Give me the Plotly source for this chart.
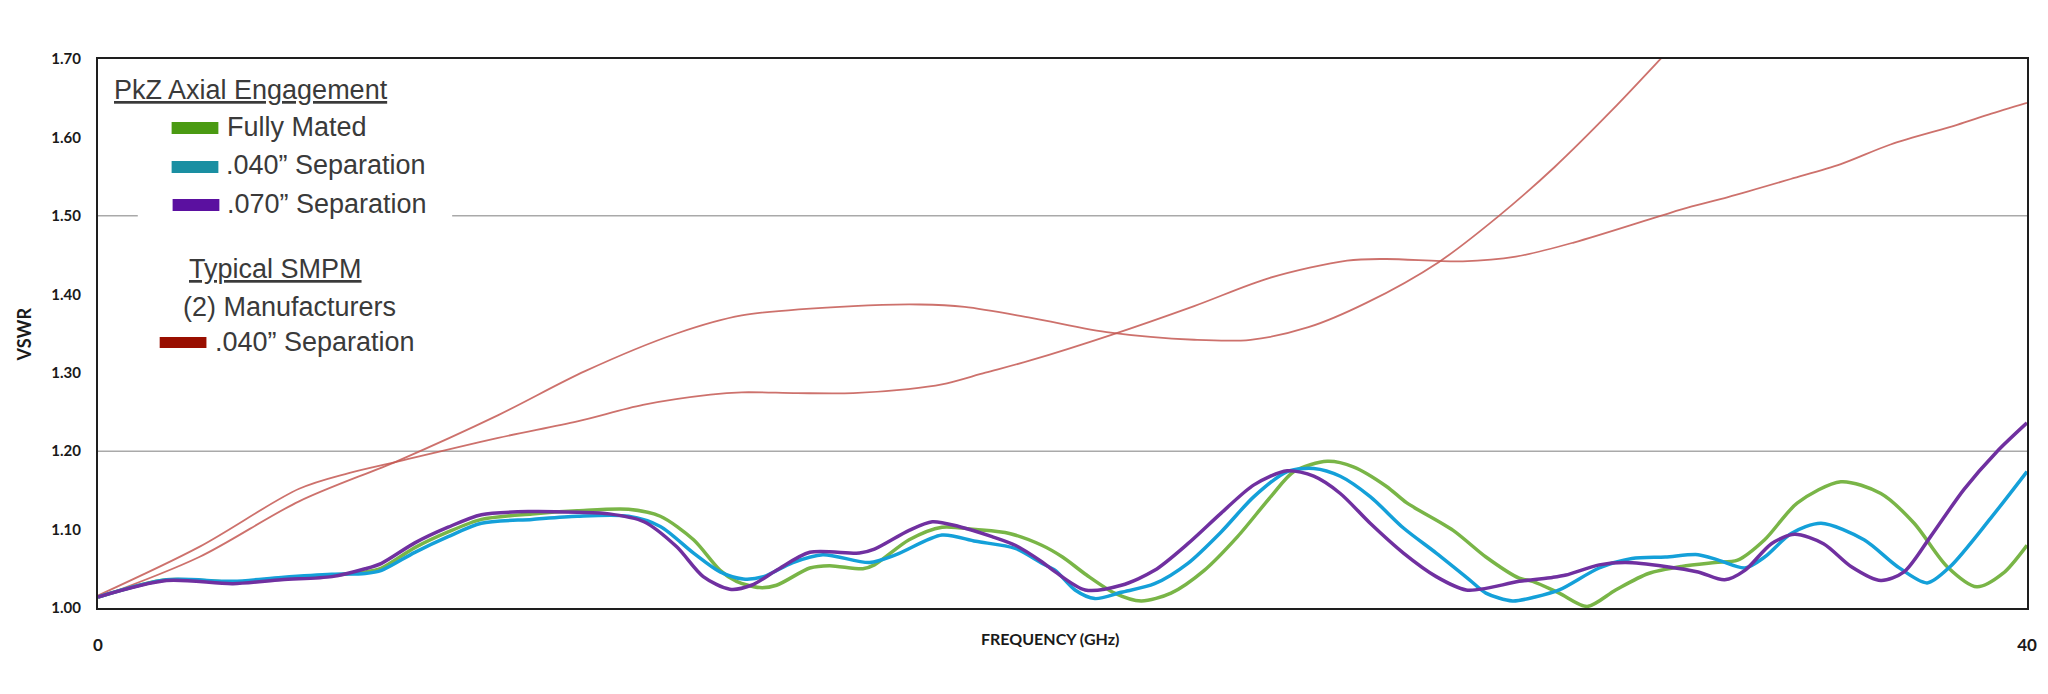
import plotly.graph_objects as go

# ---------------- data ----------------
green_f = [0, 1.42, 2.8, 3.8, 4.85, 5.54, 5.88, 6.57, 7.26, 7.95, 9.0, 9.94, 11.0, 11.66,
           12.35, 12.9, 13.24, 13.72, 14.07, 14.76, 15.17, 15.86, 16.1, 16.82, 17.5, 18.2,
           18.9, 19.57, 20.0, 20.5, 21.08, 21.63, 22.25, 22.94, 23.63, 24.32, 24.8, 25.49,
           26.03, 26.72, 27.14, 28.1, 28.78, 29.47, 29.75, 30.3, 30.88, 31.47, 32.15, 32.84,
           33.53, 34.0, 34.56, 35.24, 36.14, 36.97, 37.66, 38.34, 38.96, 39.5, 40]
green_v = [1.014, 1.036, 1.033, 1.038, 1.042, 1.046, 1.051, 1.077, 1.097, 1.113, 1.120, 1.124,
           1.126, 1.117, 1.087, 1.048, 1.034, 1.026, 1.029, 1.051, 1.054, 1.050, 1.055, 1.087,
           1.103, 1.100, 1.095, 1.080, 1.065, 1.042, 1.019, 1.009, 1.019, 1.048, 1.091, 1.142,
           1.174, 1.187, 1.180, 1.155, 1.134, 1.099, 1.065, 1.038, 1.034, 1.019, 1.002, 1.023,
           1.044, 1.053, 1.058, 1.061, 1.087, 1.134, 1.161, 1.146, 1.108, 1.053, 1.027, 1.044,
           1.080]

blue_f = [0, 1.42, 2.8, 3.8, 4.85, 5.54, 5.88, 6.57, 7.26, 7.95, 9.0, 9.94, 11.0, 11.66,
          12.35, 12.9, 13.38, 13.8, 14.41, 15.03, 16.0, 16.55, 17.5, 18.2, 19.02, 19.57,
          19.85, 20.26, 20.67, 21.22, 21.91, 22.6, 23.29, 23.97, 24.66, 25.21, 25.76, 26.38,
          27.07, 27.75, 28.44, 28.78, 29.33, 29.8, 30.3, 31.13, 31.81, 32.5, 33.18, 33.6,
          34.15, 34.56, 35.11, 35.73, 36.62, 37.31, 37.93, 38.41, 39.24, 40]
blue_v = [1.014, 1.036, 1.034, 1.039, 1.043, 1.044, 1.048, 1.071, 1.091, 1.108, 1.113, 1.117,
          1.117, 1.104, 1.070, 1.046, 1.037, 1.040, 1.058, 1.068, 1.058, 1.068, 1.093, 1.085,
          1.076, 1.057, 1.048, 1.023, 1.012, 1.020, 1.031, 1.057, 1.097, 1.142, 1.174, 1.178,
          1.168, 1.142, 1.102, 1.070, 1.036, 1.019, 1.009, 1.014, 1.023, 1.051, 1.063, 1.065,
          1.068, 1.061, 1.051, 1.065, 1.095, 1.108, 1.087, 1.053, 1.032, 1.053, 1.114, 1.174]

purple_f = [0, 1.42, 2.8, 3.8, 4.85, 5.54, 5.88, 6.57, 7.26, 7.95, 9.0, 9.94, 10.6, 11.32,
            12.0, 12.55, 13.1, 13.55, 14.07, 14.76, 15.79, 16.1, 16.82, 17.3, 17.85, 18.54,
            19.02, 19.57, 19.85, 20.47, 21.22, 21.91, 22.6, 23.29, 23.97, 24.66, 25.21, 25.76,
            26.38, 27.07, 27.75, 28.37, 28.78, 29.47, 30.16, 30.44, 31.13, 31.68, 32.5, 33.18,
            33.73, 34.15, 34.7, 35.18, 35.78, 36.35, 36.97, 37.45, 38.0, 38.69, 39.37, 40]
purple_v = [1.014, 1.035, 1.031, 1.036, 1.040, 1.050, 1.057, 1.083, 1.103, 1.119, 1.123, 1.122,
            1.120, 1.110, 1.078, 1.040, 1.024, 1.029, 1.048, 1.071, 1.070, 1.075, 1.099, 1.110,
            1.104, 1.091, 1.080, 1.059, 1.046, 1.023, 1.029, 1.048, 1.082, 1.121, 1.157, 1.175,
            1.168, 1.146, 1.108, 1.070, 1.040, 1.023, 1.025, 1.034, 1.039, 1.042, 1.055, 1.058,
            1.053, 1.046, 1.036, 1.048, 1.082, 1.094, 1.082, 1.053, 1.035, 1.046, 1.091, 1.151,
            1.199, 1.236]

smpm1_f = [0, 2.1, 4.17, 6.23, 8.3, 10.1, 12.0, 13.35, 15.66, 17.04, 17.97, 19.35, 21.0,
           22.73, 23.9, 25.1, 26.3, 27.8, 29.05, 30.2, 31.4, 32.4, 33.0]
smpm1_v = [1.013, 1.065, 1.136, 1.188, 1.246, 1.302, 1.350, 1.373, 1.385, 1.387, 1.384, 1.370,
           1.351, 1.342, 1.342, 1.358, 1.389, 1.441, 1.500, 1.562, 1.635, 1.700, 1.740]

smpm2_f = [0, 2.1, 4.17, 5.2, 6.23, 8.3, 9.94, 11.3, 12.7, 13.35, 14.5, 15.66, 16.8, 17.5,
           18.4, 19.35, 21.0, 22.73, 24.3, 25.9, 26.7, 28.3, 29.4, 30.6, 32.4, 33.05, 33.8,
           35.1, 36.14, 37.17, 38.55, 39.2, 40]
smpm2_v = [1.016, 1.078, 1.152, 1.172, 1.187, 1.217, 1.238, 1.259, 1.272, 1.275, 1.274, 1.274,
           1.279, 1.285, 1.300, 1.316, 1.348, 1.385, 1.421, 1.443, 1.445, 1.442, 1.448, 1.466,
           1.500, 1.512, 1.524, 1.547, 1.566, 1.591, 1.616, 1.629, 1.644]

y_ticks = [1.0, 1.1, 1.2, 1.3, 1.4, 1.5, 1.6, 1.7]
y_ticktext = ["1.00", "1.10", "1.20", "1.30", "1.40", "1.50", "1.60", "1.70"]
x_ticks = [0, 40]
x_ticktext = ["0", "40"]
grid_vals = [1.2, 1.5]

# ---------------- layout geometry ----------------
W, H = 2048, 694
L, R, T, B = 98, 11, 59, 86
PW = W - L - R
PH = H - T - B


def px(x):
    return (x - L) / PW


def py(y):
    return (H - B - y) / PH


GREEN, BLUE, PURPLE, RED = "#79b547", "#14a0d9", "#7030a0", "rgba(196,88,82,0.85)"
SW_GREEN, SW_BLUE, SW_PURPLE, SW_RED = "#4a9a12", "#1a8fa2", "#5b10a0", "#990e00"

fig = go.Figure()
for f, v in [(smpm1_f, smpm1_v), (smpm2_f, smpm2_v)]:
    fig.add_trace(go.Scatter(x=f, y=v, mode="lines",
                             line=dict(color=RED, width=1.8, shape="spline", smoothing=0.9),
                             showlegend=False, hoverinfo="skip"))
for f, v, c in [(green_f, green_v, GREEN), (blue_f, blue_v, BLUE), (purple_f, purple_v, PURPLE)]:
    fig.add_trace(go.Scatter(x=f, y=v, mode="lines",
                             line=dict(color=c, width=3.5, shape="spline", smoothing=0.8),
                             showlegend=False, hoverinfo="skip"))

tickfont_y = dict(family="Lato", size=15, color="#1a1a1a", weight=700)
tickfont_x = dict(family="Lato", size=17, color="#1a1a1a", weight=700)

fig.update_layout(
    width=W, height=H,
    margin=dict(l=L, r=R, t=T, b=B, pad=0),
    paper_bgcolor="white", plot_bgcolor="white",
    xaxis=dict(range=[0, 40], tickvals=x_ticks, ticktext=x_ticktext, showgrid=False,
               zeroline=False, showline=True, mirror=True, linecolor="#1e1e1e", linewidth=2,
               ticks="", tickfont=tickfont_x, ticklabelstandoff=21),
    yaxis=dict(range=[1.0, 1.7], tickvals=y_ticks, ticktext=y_ticktext, showgrid=False,
               zeroline=False, showline=True, mirror=True, linecolor="#1e1e1e", linewidth=2,
               ticks="", tickfont=tickfont_y, ticklabelstandoff=12),
)

# horizontal reference gridlines at 1.20 and 1.50
for g in grid_vals:
    fig.add_shape(type="line", xref="paper", yref="y", x0=0, x1=1, y0=g, y1=g,
                  line=dict(color="#a9a9a9", width=1.5), layer="below")

# white box interrupting the 1.50 gridline behind the legend
fig.add_shape(type="rect", xref="paper", yref="paper", x0=px(138), x1=px(454),
              y0=py(224), y1=py(206), fillcolor="white", line=dict(width=0), layer="above")

# legend swatches
for (x0, x1, y0, y1, c) in [(172, 219, 122, 134, SW_GREEN), (172, 219, 161, 173, SW_BLUE),
                            (173, 220, 199, 211, SW_PURPLE), (160, 207, 337, 348, SW_RED)]:
    fig.add_shape(type="rect", xref="paper", yref="paper", x0=px(x0), x1=px(x1),
                  y0=py(y1), y1=py(y0), fillcolor=c, line=dict(width=0), layer="above")

LEG_FONT = dict(family="Liberation Sans, Arial", size=27, color="#3a3a3a")
legend_texts = [
    ("<u>PkZ Axial Engagement</u>", 112, 90),
    ("Fully Mated", 226, 127),
    (".040\u201d Separation", 225, 165),
    (".070\u201d Separation", 226, 204),
    ("<u>Typical SMPM</u>", 187, 269),
    ("(2) Manufacturers", 181, 307),
    (".040\u201d Separation", 214, 342),
]
for txt, x, y in legend_texts:
    fig.add_annotation(text=txt, xref="paper", yref="paper", x=px(x), y=py(y),
                       xanchor="left", yanchor="middle", showarrow=False, font=LEG_FONT)

fig.add_annotation(text="VSWR", xref="paper", yref="paper", x=px(24), y=py(334),
                   xanchor="center", yanchor="middle", textangle=-90, showarrow=False,
                   font=dict(family="Lato", size=18, color="#1a1a1a", weight=700))
fig.add_annotation(text="FREQUENCY (GHz)", xref="paper", yref="paper", x=px(1055), y=py(638),
                   xanchor="center", yanchor="middle", showarrow=False,
                   font=dict(family="Lato", size=16, color="#1a1a1a", weight=700))

fig.write_html("out.html")
